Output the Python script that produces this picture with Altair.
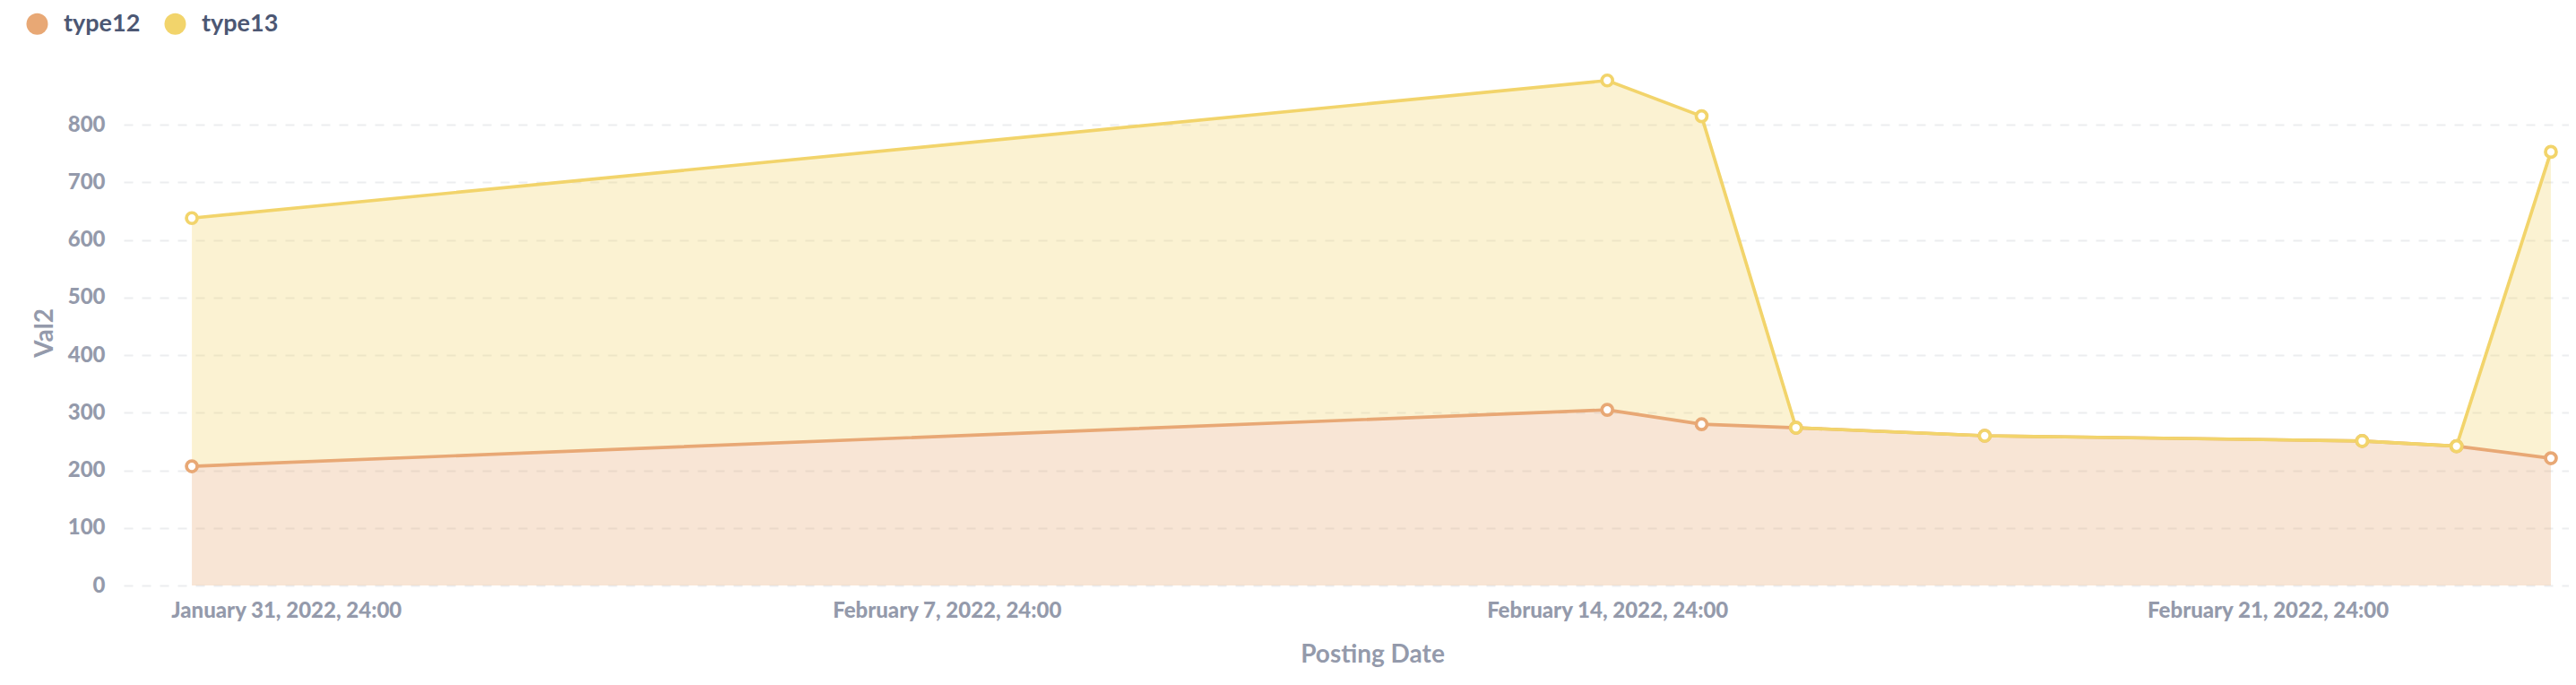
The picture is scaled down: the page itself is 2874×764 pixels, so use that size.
import altair as alt
import pandas as pd

# ---- data ----
dates = ["2022-01-30", "2022-02-14", "2022-02-15", "2022-02-16",
         "2022-02-18", "2022-02-22", "2022-02-23", "2022-02-24"]
type12 = [207, 305, 280, 274, 260, 251, 242, 221]
type13 = [431, 572, 535, 0, 0, 0, 0, 532]
series = ["type12", "type13"]
colors = ["#E8A875", "#F2D46B"]
y_ticks = [0, 100, 200, 300, 400, 500, 600, 700, 800]
x_ticks = [(2022, 1, 31), (2022, 2, 7), (2022, 2, 14), (2022, 2, 21)]

rows = []
for i, d in enumerate(dates):
    rows.append({"date": d + "T00:00:00", "series": series[0], "order": 0, "value": type12[i]})
    rows.append({"date": d + "T00:00:00", "series": series[1], "order": 1, "value": type13[i]})
df = pd.DataFrame(rows)

GRAY = "#949AAB"
FONT = "Lato"

x_enc = alt.X(
    "date:T",
    scale=alt.Scale(domain=[
        alt.DateTime(year=2022, month=1, date=29, hours=6, minutes=40),
        alt.DateTime(year=2022, month=2, date=24, hours=4, minutes=34),
    ]),
    axis=alt.Axis(
        values=[alt.DateTime(year=a, month=b, date=c) for a, b, c in x_ticks],
        format="%B %-d, %Y, 24:00",
        title="Posting Date",
        grid=False, ticks=False, domain=False,
        labelPadding=16, labelFlush=False, labelOverlap=False, labelLimit=600,
        labelFont=FONT, labelFontSize=24, labelFontWeight=900, labelColor=GRAY,
        titleFont=FONT, titleFontSize=28, titleFontWeight="bold", titleColor=GRAY,
        titleX=1393, titleY=85, titleAlign="center", titleBaseline="alphabetic",
    ),
)
y_enc = alt.Y(
    "y1:Q",
    scale=alt.Scale(domain=[0, 900], nice=False),
    axis=alt.Axis(
        values=y_ticks, title="Val2",
        grid=True, gridColor="#ECEDEF", gridDash=[10, 10], gridWidth=2,
        ticks=False, domain=False, labelPadding=21,
        labelFont=FONT, labelFontSize=24, labelFontWeight=900, labelColor=GRAY,
        titleFont=FONT, titleFontSize=28, titleFontWeight="bold", titleColor=GRAY,
        titleX=-80, titleY=296, titleAngle=270, titleAlign="center", titleBaseline="alphabetic",
    ),
)

base = alt.Chart(df).transform_stack(
    stack="value", groupby=["date"], as_=["y0", "y1"],
    sort=[alt.SortField(field="order", order="ascending")],
)

areas = base.mark_area(opacity=0.3).encode(
    x=x_enc, y=y_enc, y2="y0:Q",
    color=alt.Color(
        "series:N",
        scale=alt.Scale(domain=series, range=colors),
        legend=alt.Legend(
            title=None, orient="none", legendX=-110, legendY=-62,
            direction="horizontal", symbolType="circle", symbolSize=576,
            symbolOpacity=1, symbolStrokeWidth=0, padding=0,
            labelFont=FONT, labelFontSize=27, labelFontWeight="bold",
            labelColor="#4C5773", labelOffset=16, columnPadding=25,
        ),
    ),
    order=alt.Order("order:Q"),
)

layers = [areas]
for s, c in zip(series, colors):
    layers.append(
        base.transform_filter(alt.datum.series == s)
        .mark_line(color=c, strokeWidth=3.7)
        .encode(x=x_enc, y=y_enc)
    )
for s, c in zip(series, colors):
    layers.append(
        base.transform_filter(alt.datum.series == s)
        .mark_point(shape="circle", filled=False, fill="white", fillOpacity=1,
                    stroke=c, strokeWidth=3.7, size=144, opacity=1)
        .encode(x=x_enc, y=y_enc)
    )

chart = alt.layer(*layers).properties(
    width=2728, height=578,
    autosize=alt.AutoSizeParams(type="none"),
    padding={"left": 130, "top": 67, "right": 0, "bottom": 96},
).configure_view(stroke=None)

chart.save("out.html", embed_options={"renderer": "svg", "actions": False})
